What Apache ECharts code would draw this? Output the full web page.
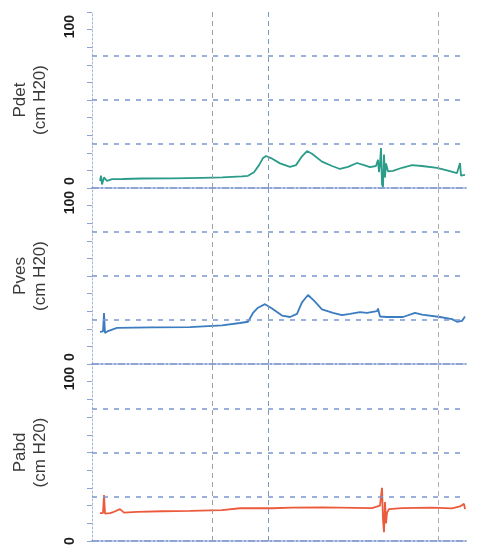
<!DOCTYPE html>
<html>
<head>
<meta charset="utf-8">
<script src="https://cdn.jsdelivr.net/npm/echarts@6/dist/echarts.min.js"></script>
<style>html,body{margin:0;padding:0;background:#fff}#c{width:480px;height:552px}</style>
</head>
<body>
<div id="c"></div>
<script>
// Channel names
var channelNames = ['Pdet\n(cm H20)', 'Pves\n(cm H20)', 'Pabd\n(cm H20)'];
// Pressure traces: [time, cm H2O]
var pdetPoints = [[8,4],[9,7],[10,2],[12,6],[15,4],[20,5],[31,5.1],[50,5.4],[80,5.5],[110,5.8],[130,6],[150,6.6],[156,6.9],[162,9],[167,13],[171,17],[174,18.2],[179,17],[188,14],[198,12],[204,13],[210,18],[215,21],[220,19.5],[230,15],[240,12.5],[248,10.8],[256,12],[265,14.2],[272,13],[278,11.9],[284,12.5],[286,16],[287,9],[288,14],[289,22.7],[290,2],[291,0.6],[292,19],[293,6],[294,14],[296,9.5],[301,9.7],[310,11.5],[320,13],[330,12.5],[345,11.4],[355,10],[365,8.5],[367,8],[368,14.2],[369,7],[373,7.4]];
var pvesPoints = [[8,18.2],[11,18.5],[12,29],[13,17.6],[16,18.7],[25,20.5],[60,20.8],[98,21],[130,22],[148,23.3],[156,24],[161,29],[166,32],[173,34],[180,31.5],[190,27.5],[198,26.7],[205,28.5],[210,35],[216,39.2],[222,36],[230,31],[241,29],[250,27.8],[258,28.5],[268,29.5],[275,29],[285,30],[286,31.5],[288,27],[295,26.7],[311,26.7],[323,29],[330,28],[348,26.7],[360,25.5],[365,24],[370,24.5],[373,27]];
var pabdPoints = [[8,15.8],[11,15.8],[12,26],[13,15.5],[18,15.8],[22,16.5],[28,18],[32,16],[45,16.4],[70,16.8],[98,17],[130,17.5],[148,18.5],[180,18.5],[200,18.8],[230,19],[280,18.6],[288,20],[290,30],[291,12],[292,5],[293,22],[294,10],[295,16],[297,18],[310,18.6],[340,18.8],[360,18.4],[368,19.5],[372,21],[373,18]];
var traces = [pdetPoints, pvesPoints, pabdPoints];
var traceColors = ['#2b9c8a', '#3b7dc0', '#ec5a3c'];
// Reference gridlines (cm H2O) and event markers (time)
var gridValues = [25, 50, 75];
var eventTimes = [120, 176, 346];
var eventColors = ['#9a9fa8', '#7f95c4', '#a9adb5'];
var yTickLabels = [0, 100];

var tops = [12, 188, 364];
var heights = [176, 176, 177];
var grids = [], xAxes = [], yAxes = [], series = [];
for (var i = 0; i < 3; i++) {
  grids.push({left: 92, right: 14, top: tops[i], height: heights[i]});
  xAxes.push({
    gridIndex: i, type: 'value', min: 0, max: 374,
    axisLine: {show: true, lineStyle: {color: '#6a88c6', width: 1.6, type: [7, 2, 2, 2]}},
    axisTick: {show: false}, axisLabel: {show: false}, splitLine: {show: false}
  });
  yAxes.push({
    gridIndex: i, type: 'value', min: 0, max: 100, interval: 10,
    name: channelNames[i], nameLocation: 'middle', nameRotate: 90, nameGap: 42,
    nameTextStyle: {fontSize: 17, color: '#3a3a3a', lineHeight: 20, fontFamily: 'Liberation Sans'},
    axisLine: {show: true, lineStyle: {color: '#a8b8dc', width: 1, type: [2, 2]}},
    axisTick: {show: true, length: 5, lineStyle: {color: '#8fa3d2'}},
    splitLine: {show: false},
    axisLabel: {
      rotate: 90, margin: 15, fontSize: 14, fontWeight: 'bold', color: '#1e1e1e',
      fontFamily: 'Liberation Sans', padding: [0, 3],
      alignMaxLabel: 'right',
      alignMinLabel: i === 2 ? 'center' : 'left',
      formatter: function (v) { return yTickLabels.indexOf(v) >= 0 ? String(v) : ''; }
    }
  });
  var ml = [];
  gridValues.forEach(function (g) {
    ml.push({yAxis: g, lineStyle: {color: '#7b95cf', width: 1.6, type: [5, 6]}});
  });
  eventTimes.forEach(function (t, k) {
    ml.push({xAxis: t, lineStyle: {color: eventColors[k], width: 1, type: [5, 4]}});
  });
  series.push({
    type: 'line', xAxisIndex: i, yAxisIndex: i, data: traces[i],
    showSymbol: false, symbol: 'none', smooth: false,
    lineStyle: {color: traceColors[i], width: 1.8},
    markLine: {silent: true, symbol: 'none', label: {show: false}, data: ml, animation: false}
  });
}
var chart = echarts.init(document.getElementById('c'));
chart.setOption({animation: false, grid: grids, xAxis: xAxes, yAxis: yAxes, series: series});
</script>
</body>
</html>
